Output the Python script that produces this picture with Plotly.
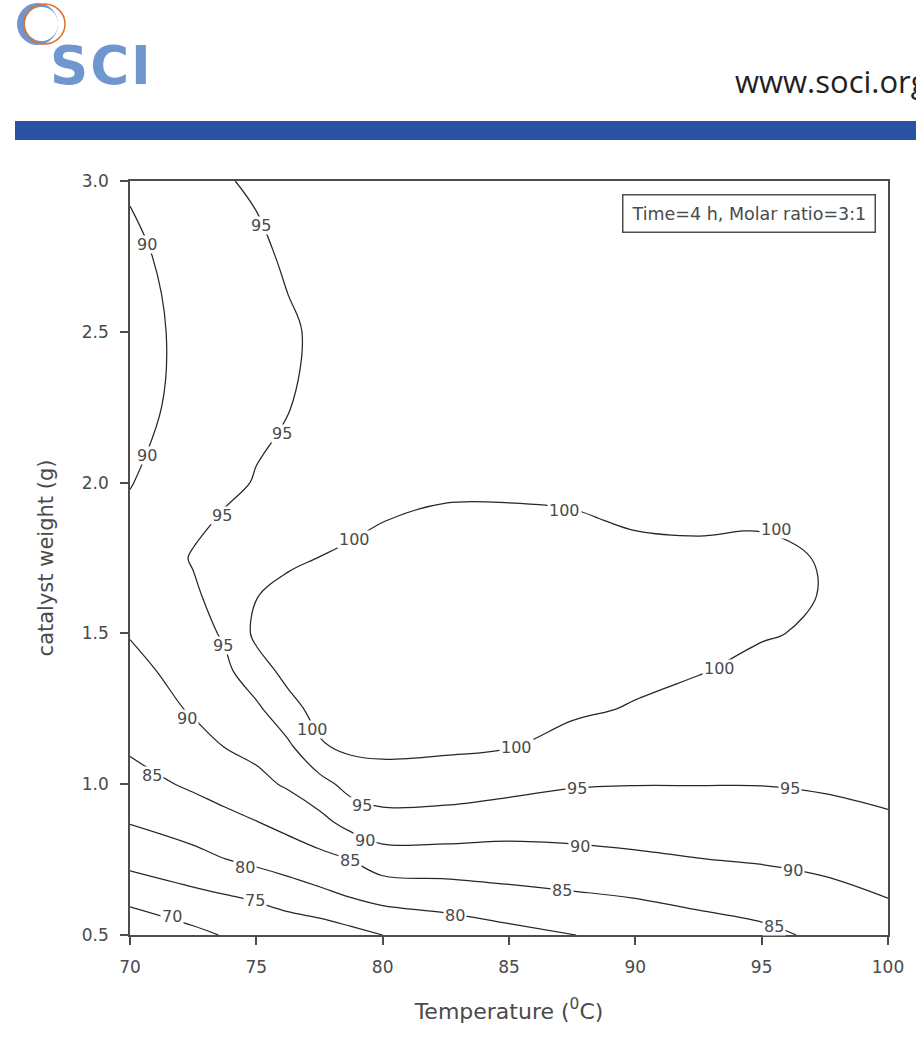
import plotly.graph_objects as go

# ---------------- data ----------------
x_temperature = [70, 72.5, 73.75, 75, 76.25, 77.5, 78.75, 80, 82.5, 85, 87.5, 90, 92.5, 95, 97.5, 100]
y_catalyst = [0.5, 0.625, 0.75, 0.875, 1.0, 1.125, 1.25, 1.375, 1.5, 1.625,
              1.75, 1.875, 2.0, 2.25, 2.5, 2.75, 3.0]

# conversion (%) estimated at each grid node; one list per catalyst weight row
z_row_050 = [65.5, 68.8, 70.3, 71.5, 71.6, 72.1, 73.5, 75.0, 76.7, 78.5, 79.9, 81.5, 82.5, 83.8, 86.0, 88.0]
z_row_0625 = [71.5, 73.7, 74.6, 75.5, 77.1, 78.6, 80.05, 81.4, 82.3, 83.5, 84.3, 85.1, 86.3, 87.3, 88.5, 90.05]
z_row_075 = [76.5, 78.5, 79.9, 81.1, 82.3, 83.6, 85.1, 87.7, 87.8, 87.9, 88.5, 89.2, 89.9, 90.4, 91.2, 92.2]
z_row_0875 = [80.24, 82.4, 83.7, 84.9, 86.5, 88.6, 91.75, 93.3, 93.1, 92.2, 92.1, 92.3, 92.5, 92.8, 93.5, 94.5]
z_row_100 = [83.25, 85.7, 87.0, 88.7, 90.6, 93.3, 96.7, 97.65, 97.4, 96.5, 95.35, 95.1, 95.1, 95.1, 95.5, 96.0]
z_row_1125 = [85.64, 88.4, 90.1, 91.3, 94.1, 99.5, 101.0, 101.2, 100.8, 100.2, 98.7, 97.3, 96.8, 96.4, 96.8, 96.8]
z_row_125 = [87.19, 90.5, 92.0, 94.1, 98.5, 101.5, 102.0, 102.0, 102.0, 101.5, 100.6, 99.75, 98.5, 97.7, 97.9, 97.4]
z_row_1375 = [88.73, 91.75, 93.9, 98.0, 101.3, 101.8, 102.3, 102.5, 102.6, 102.3, 101.5, 100.8, 100.2, 99.0, 98.8, 97.8]
z_row_150 = [90.25, 93.0, 95.6, 101.0, 101.5, 101.8, 102.3, 102.5, 102.8, 102.7, 102.0, 101.5, 101.2, 100.3, 99.5, 98.0]
z_row_1625 = [91.3, 94.4, 96.6, 99.9, 101.0, 101.2, 101.9, 102.2, 102.6, 102.7, 102.0, 101.5, 101.3, 101.0, 99.85, 98.1]
z_row_175 = [91.6, 95.3, 96.6, 98.8, 99.4, 100.05, 100.9, 101.3, 101.8, 102.0, 101.4, 100.8, 100.7, 100.9, 99.75, 97.9]
z_row_1875 = [90.9, 94.2, 95.4, 97.5, 98.0, 98.5, 98.9, 99.95, 100.5, 100.6, 100.3, 99.7, 99.5, 99.6, 99.0, 97.5]
z_row_200 = [89.8, 93.0, 94.2, 95.2, 96.6, 97.2, 98.0, 99.0, 99.4, 99.3, 99.3, 98.8, 98.6, 98.6, 98.2, 97.0]
z_row_225 = [89.0, 91.0, 92.8, 94.3, 94.9, 95.6, 96.8, 97.8, 98.3, 98.5, 98.5, 98.1, 97.9, 97.8, 97.4, 96.5]
z_row_250 = [88.8, 90.9, 92.4, 93.9, 94.6, 95.5, 96.4, 97.2, 97.8, 98.0, 98.1, 97.8, 97.6, 97.4, 97.0, 96.2]
z_row_275 = [89.4, 91.1, 92.9, 94.4, 95.4, 96.3, 96.8, 97.2, 97.8, 98.0, 98.1, 97.8, 97.6, 97.3, 96.9, 96.1]
z_row_300 = [90.3, 94.2, 94.8, 95.4, 95.9, 96.3, 97.0, 97.5, 98.0, 98.2, 98.3, 98.0, 97.8, 97.5, 97.0, 96.2]

z_conversion = [z_row_050, z_row_0625, z_row_075, z_row_0875, z_row_100, z_row_1125,
                z_row_125, z_row_1375, z_row_150, z_row_1625, z_row_175, z_row_1875,
                z_row_200, z_row_225, z_row_250, z_row_275, z_row_300]

contour_start, contour_end, contour_step = 70, 100, 5

# contour labels as printed in the reference (value, temperature, catalyst weight)
label_value = [90, 90, 95, 95, 95, 95, 95, 95, 95, 100, 100, 100, 100, 100, 100,
               90, 90, 90, 90, 85, 85, 85, 85, 80, 80, 75, 70]
label_x = [70.66, 70.66, 75.2, 76.0, 73.64, 73.68, 79.18, 87.7, 96.12, 78.9, 77.24, 85.3,
           93.35, 95.6, 87.2, 72.26, 79.3, 87.8, 96.24, 70.87, 78.7, 87.1, 95.5, 74.55,
           82.86, 74.95, 71.66]
label_y = [2.788, 2.091, 2.854, 2.164, 1.892, 1.461, 0.931, 0.987, 0.987, 1.81, 1.18, 1.123,
           1.385, 1.843, 1.909, 1.219, 0.815, 0.792, 0.715, 1.03, 0.748, 0.649, 0.528, 0.725,
           0.566, 0.616, 0.56]

x_ticks = [70, 75, 80, 85, 90, 95, 100]
y_ticks = [0.5, 1.0, 1.5, 2.0, 2.5, 3.0]
condition_text = "Time=4 h, Molar ratio=3:1"

# ---------------- layout geometry ----------------
W, H = 916, 1046
L, R, T, B = 130, 888, 181, 935  # plot area in pixels


def px(xp):
    return (xp - L) / (R - L)


def py(yp):
    return (B - yp) / (B - T)


TEXT = "#4a4a4a"
LINE = "#262626"
FONT = "DejaVu Sans, Verdana, sans-serif"

fig = go.Figure()
fig.add_trace(go.Contour(
    x=x_temperature, y=y_catalyst, z=z_conversion,
    autocontour=False,
    contours=dict(start=contour_start, end=contour_end, size=contour_step,
                  coloring="none", showlabels=False),
    line=dict(color=LINE, width=1.25, smoothing=1.0),
    showscale=False, hoverinfo="skip",
))

for v, lx, ly in zip(label_value, label_x, label_y):
    fig.add_annotation(x=lx, y=ly, xref="x", yref="y", text=str(v), showarrow=False,
                       font=dict(family=FONT, size=16, color=TEXT),
                       bgcolor="white", borderpad=1, height=15)

axis_common = dict(showgrid=False, zeroline=False, showline=True, mirror=True,
                   linecolor="#4d4d4d", linewidth=1.5, ticks="outside", ticklen=8,
                   tickwidth=1.5, tickcolor="#4d4d4d",
                   tickfont=dict(family=FONT, size=17, color=TEXT))

fig.update_layout(
    width=W, height=H, autosize=False,
    margin=dict(l=L, r=W - R, t=T, b=H - B),
    paper_bgcolor="white", plot_bgcolor="white",
    showlegend=False,
    xaxis=dict(range=[70, 100], tickvals=x_ticks, ticktext=[str(v) for v in x_ticks],
               ticklabelstandoff=8,
               title=dict(text="Temperature (<sup>0</sup>C)", standoff=27,
                          font=dict(family=FONT, size=22, color=TEXT)),
               **axis_common),
    yaxis=dict(range=[0.5, 3.0], tickvals=y_ticks, ticktext=[f"{v:.1f}" for v in y_ticks],
               ticklabelstandoff=8,
               title=dict(text="catalyst weight (g)", standoff=22,
                          font=dict(family=FONT, size=21, color=TEXT)),
               **axis_common),
)

# condition box in upper right corner
fig.add_annotation(xref="paper", yref="paper", x=px(876), y=py(194),
                   xanchor="right", yanchor="top", showarrow=False,
                   text=condition_text,
                   font=dict(family=FONT, size=17.5, color=TEXT),
                   bordercolor="#4d4d4d", borderwidth=1.5, borderpad=8, bgcolor="white")

# ---------------- journal header ----------------
shapes = []
shapes.append(dict(type="rect", xref="paper", yref="paper", x0=px(15), x1=px(916),
                   y0=py(140), y1=py(121), fillcolor="#2a52a3", line=dict(width=0),
                   layer="above"))
shapes.append(dict(type="circle", xref="paper", yref="paper", x0=px(17), x1=px(58),
                   y0=py(45), y1=py(3), fillcolor="#6f96cf", line=dict(width=0)))
shapes.append(dict(type="circle", xref="paper", yref="paper", x0=px(25), x1=px(58),
                   y0=py(41), y1=py(7), fillcolor="white", line=dict(width=0)))
shapes.append(dict(type="circle", xref="paper", yref="paper", x0=px(24), x1=px(65),
                   y0=py(44), y1=py(4), fillcolor="rgba(0,0,0,0)",
                   line=dict(color="#e0702a", width=1.5)))
fig.update_layout(shapes=shapes)

fig.add_annotation(xref="paper", yref="paper", x=px(101), y=py(65),
                   xanchor="center", yanchor="middle", showarrow=False,
                   text='<span style="letter-spacing:2px"><b>SCI</b></span>',
                   font=dict(family="DejaVu Sans, sans-serif", size=53, color="#6f96cf"))
fig.add_annotation(xref="paper", yref="paper", x=px(733), y=py(81),
                   xanchor="left", yanchor="middle", showarrow=False,
                   text="www.soci.org",
                   font=dict(family="Open Sans, sans-serif", size=31, color="#231f20"))

fig.write_html("out.html", config={"displayModeBar": False},
               post_script="document.body.style.margin='0px';")
